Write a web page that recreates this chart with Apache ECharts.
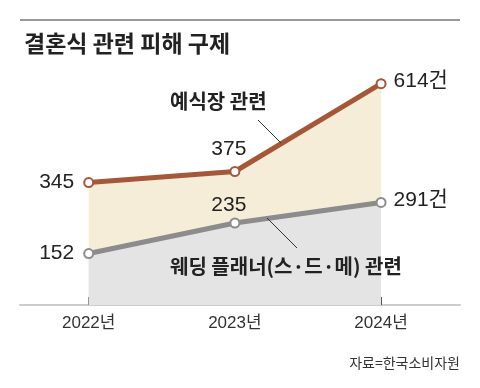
<!DOCTYPE html>
<html><head><meta charset="utf-8">
<script src="https://cdn.jsdelivr.net/npm/echarts@6/dist/echarts.min.js"></script>
<style>html,body{margin:0;padding:0;background:#fff}#c{width:480px;height:388px}</style>
</head><body><div id="c"></div>
<script>
const years = [2022, 2023, 2024];
const yearLabels = ['2022년', '2023년', '2024년'];
const venueValues = [345, 375, 614];
const plannerValues = [152, 235, 291];
const venueName = '예식장 관련';
const plannerName = '웨딩 플래너(스·드·메) 관련';
const titleText = '결혼식 관련 피해 구제';
const sourceText = '자료=한국소비자원';

const NUMF = "'Liberation Sans Narrow', 'Liberation Sans', 'Noto Sans CJK KR', sans-serif";
const KR = "'Noto Sans CJK KR', sans-serif";
const BROWN = '#A5573A', BEIGE = '#F6EDD9', GRAY = '#8C8C8C', GRAYFILL = '#E4E4E4';

function buildData(vals, topDist) {
  const pos = [
    {position: 'left', distance: 9, offset: [0, 0]},
    {position: 'top', distance: topDist, offset: [-6, 0]},
    {position: 'right', distance: 7, offset: [0, -2]}
  ];
  return vals.map((v, i) => ({value: [years[i], v], label: pos[i]}));
}
function fmt(p) { return p.dataIndex === years.length - 1 ? p.value[1] + '건' : String(p.value[1]); }

function series(name, vals, lineColor, fillColor, topDist) {
  return {
    name, type: 'line', data: buildData(vals, topDist),
    symbol: 'circle', symbolSize: 9,
    lineStyle: {color: lineColor, width: 5},
    itemStyle: {color: '#fff', borderColor: lineColor, borderWidth: 2},
    areaStyle: {color: fillColor, opacity: 1, origin: 'start'},
    label: {show: true, formatter: fmt, color: '#222', fontFamily: NUMF, fontSize: 21},
    silent: true, animation: false
  };
}

const chart = echarts.init(document.getElementById('c'), null, {renderer: 'canvas'});
chart.setOption({
  animation: false,
  title: {text: titleText, left: 19, top: 27,
    textStyle: {fontFamily: KR, fontSize: 23, fontWeight: 'bold', color: '#222'}},
  grid: {left: 20, right: 20, top: 52, bottom: 83},
  xAxis: {
    type: 'value', min: 2021.53, max: 2024.54,
    axisLine: {show: true, lineStyle: {color: '#cccccc', width: 2}},
    axisTick: {show: true, inside: true, length: 8, lineStyle: {color: '#444', width: 1}, customValues: years},
    axisLabel: {show: true, customValues: years, margin: 10,
      formatter: v => yearLabels[years.indexOf(Math.round(v))] || '',
      fontFamily: NUMF, fontSize: 17, color: '#333'},
    splitLine: {show: false}
  },
  yAxis: {type: 'value', min: 12, max: 700, show: false, splitLine: {show: false}},
  series: [
    series(venueName, venueValues, BROWN, BEIGE, 6),
    series(plannerName, plannerValues, GRAY, GRAYFILL, 2)
  ],
  graphic: [
    {type: 'line', shape: {x1: 20, y1: 20, x2: 460, y2: 20}, style: {stroke: '#999', lineWidth: 2}, z: 100},
    {type: 'text', left: 170, top: 91, z: 100, style: {text: venueName, font: "bold 20px 'Noto Sans CJK KR'", fill: '#222'}},
    {type: 'line', shape: {x1: 258, y1: 120, x2: 281, y2: 143}, style: {stroke: '#333', lineWidth: 1}, z: 100},
    {type: 'text', left: 170, top: 256, z: 100, style: {text: plannerName, font: "bold 20px 'Noto Sans CJK KR'", fill: '#222'}},
    {type: 'line', shape: {x1: 267, y1: 218, x2: 297, y2: 248}, style: {stroke: '#333', lineWidth: 1}, z: 100},
    {type: 'text', right: 20, top: 356, z: 100, style: {text: sourceText, font: "14px 'Noto Sans CJK KR'", fill: '#333'}}
  ]
});
</script></body></html>
